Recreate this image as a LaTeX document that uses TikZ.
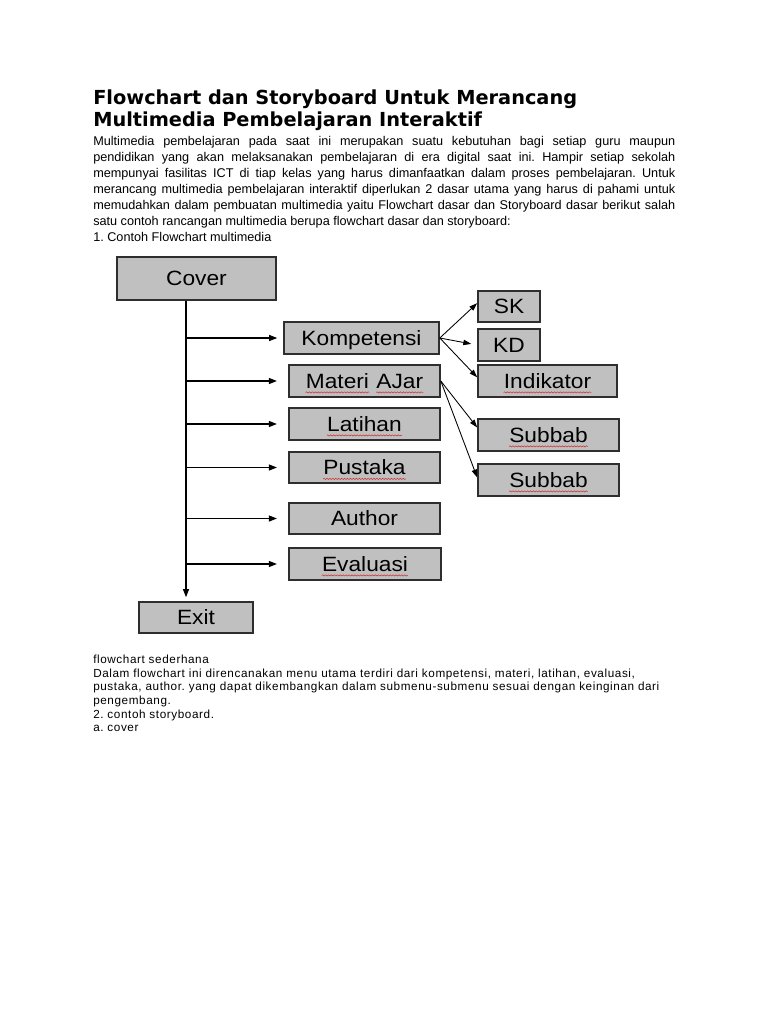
\documentclass[tikz,border=0pt]{standalone}
\usepackage{fontspec}
\setmainfont{Liberation Sans}
\newfontfamily\titlefont{DejaVu Sans}
\newfontfamily\boxfont[FakeStretch=1.1]{Liberation Sans}
\newfontfamily\notefont[LetterSpace=5]{Liberation Sans}
\usetikzlibrary{arrows.meta,decorations.pathmorphing}
\definecolor{boxgray}{HTML}{C0C0C0}
\definecolor{boxline}{HTML}{2E2E2E}
\definecolor{spellred}{HTML}{D03030}

\tikzset{
  menubox/.style={draw=boxline, fill=boxgray, line width=1.2pt, inner sep=0pt,
    minimum height=24pt, text height=11.1pt, text depth=0pt,
    font=\boxfont\fontsize{15.5}{18}\selectfont},
  flow/.style={line width=0.8pt, -{Triangle[length=6pt,width=4.5pt]}},
  subflow/.style={line width=0.65pt, -{Triangle[length=6pt,width=4pt]}},
  textline/.style={inner sep=0pt, anchor=base west}
}
\newcommand\spellmark[1]{\tikz[baseline=(sm.base)]{%
  \node[draw=none, fill=none, inner sep=0pt, minimum width=0pt, minimum height=0pt,
    text height=, text depth=] (sm) {#1};
  \draw[spellred, fill=none, line width=0.4pt, decorate,
    decoration={snake, amplitude=0.45pt, segment length=2.2pt}]
    ([yshift=-3pt]sm.base west) -- ([yshift=-3pt]sm.base east);}}

\begin{document}
\frenchspacing
\begin{tikzpicture}[x=0.75pt, y=-0.75pt]
  \useasboundingbox[fill=white] (0,0) rectangle (768,1024);

  % heading
  \node[textline, font=\titlefont\bfseries\fontsize{14.5}{16.5}\selectfont] (judul1) at (93,104)
    {Flowchart dan Storyboard Untuk Merancang};
  \node[textline, font=\titlefont\bfseries\fontsize{14.5}{16.5}\selectfont] (judul2) at (93,126)
    {Multimedia Pembelajaran Interaktif};

  % intro paragraph
  \node[inner sep=0pt, anchor=north west, text width=436.5pt, align=justify,
    font=\fontsize{9.5}{12}\selectfont] (intro) at (93,136) {%
    Multimedia pembelajaran pada saat ini merupakan suatu kebutuhan bagi setiap guru maupun\linebreak
    pendidikan yang akan melaksanakan pembelajaran di era digital saat ini. Hampir setiap sekolah\linebreak
    mempunyai fasilitas ICT di tiap kelas yang harus dimanfaatkan dalam proses pembelajaran. Untuk\linebreak
    merancang multimedia pembelajaran interaktif diperlukan 2 dasar utama yang harus di pahami untuk\linebreak
    memudahkan dalam pembuatan multimedia yaitu Flowchart dasar dan Storyboard dasar berikut salah\linebreak
    satu contoh rancangan multimedia berupa flowchart dasar dan storyboard:\newline
    1. Contoh Flowchart multimedia};

  % flowchart
  \node[menubox, minimum width=119.25pt, minimum height=32.25pt] (cover) at (196.5,278.5) {Cover};
  \node[menubox, minimum width=116.25pt] (komp) at (361.5,338) {Kompetensi};
  \node[menubox, minimum width=113.25pt] (materi) at (364.5,381) {\spellmark{Materi} \spellmark{AJar}};
  \node[menubox, minimum width=113.25pt] (latihan) at (364.5,424) {\spellmark{Latihan}};
  \node[menubox, minimum width=113.25pt, minimum height=23.25pt] (pustaka) at (364.5,467.5) {\spellmark{Pustaka}};
  \node[menubox, minimum width=113.25pt, minimum height=23.25pt] (author) at (364.5,518.5) {Author};
  \node[menubox, minimum width=114pt] (evaluasi) at (365,564) {\spellmark{Evaluasi}};
  \node[menubox, minimum width=85.5pt, minimum height=23.25pt] (exit) at (196,617.5) {Exit};

  \node[menubox, minimum width=46.5pt, minimum height=23.25pt] (sk) at (509,306.5) {SK};
  \node[menubox, minimum width=46.5pt] (kd) at (509,345) {KD};
  \node[menubox, minimum width=104.25pt] (indikator) at (547.5,381) {\spellmark{Indikator}};
  \node[menubox, minimum width=105.75pt] (subbab1) at (548.5,435) {\spellmark{Subbab}};
  \node[menubox, minimum width=105.75pt] (subbab2) at (548.5,480) {\spellmark{Subbab}};

  \coordinate (trunk) at (186,0);
  \draw[flow, shorten >=3pt] (cover.south -| trunk) -- (exit.north -| trunk);
  \draw[flow, shorten >=4.5pt] (komp.west -| trunk) -- (komp.west);
  \draw[flow, shorten >=8.5pt] (materi.west -| trunk) -- (materi.west);
  \draw[flow, shorten >=8.5pt] (latihan.west -| trunk) -- (latihan.west);
  \draw[flow, shorten >=8.5pt] (pustaka.west -| trunk) -- (pustaka.west);
  \draw[flow, shorten >=8.5pt] (author.west -| trunk) -- (author.west);
  \draw[flow, shorten >=8.5pt] (evaluasi.west -| trunk) -- (evaluasi.west);

  \draw[subflow] (komp.east) -- (sk.174);
  \draw[subflow, shorten >=4.5pt] (komp.east) -- (kd.west);
  \draw[subflow] (komp.east) -- (indikator.177);
  \draw[subflow] (materi.east) -- (subbab1.174);
  \draw[subflow] (materi.east) -- (subbab2.178);

  % caption and notes
  \node[inner sep=0pt, anchor=north west, align=left,
    font=\notefont\fontsize{8.8}{10.2}\selectfont] (catatan) at (93,655) {%
    flowchart sederhana\\
    Dalam flowchart ini direncanakan menu utama terdiri dari kompetensi, materi, latihan, evaluasi,\\
    pustaka, author. yang dapat dikembangkan dalam submenu-submenu sesuai dengan keinginan dari\\
    pengembang.\\
    2. contoh storyboard.\\
    a. cover};
\end{tikzpicture}
\end{document}
